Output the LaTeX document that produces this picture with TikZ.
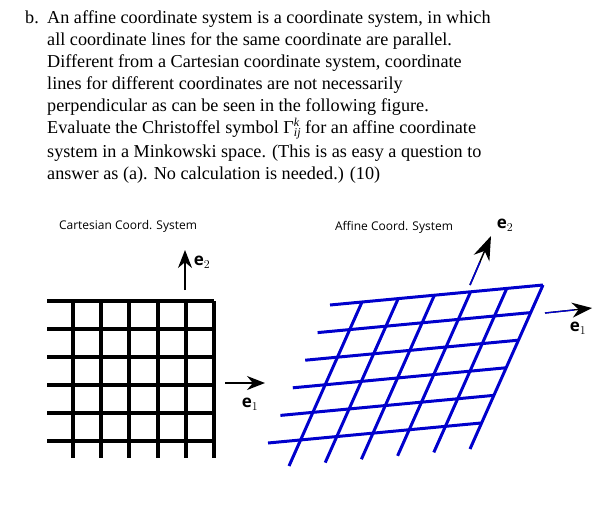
\documentclass[tikz,border=0pt]{standalone}
\usepackage{fontspec}
\setmainfont{Liberation Serif}
\newfontfamily\labelfont{Open Sans}
\usetikzlibrary{arrows.meta}
\tikzset{
  textline/.style={anchor=base west, inner sep=0pt, font=\fontsize{18.2}{20}\selectfont},
  gridline/.style={line width=4pt},
  affline/.style={line width=3pt, color=blue!80!black},
  basisvec/.style={-{Stealth[length=18pt,width=14pt]}, line width=1.3pt},
  veclabel/.style={font=\labelfont\bfseries\fontsize{17}{18}\selectfont, inner sep=0pt},
  title/.style={font=\labelfont\fontsize{12}{14}\selectfont, inner sep=0pt}
}
\begin{document}
\begin{tikzpicture}[x=1pt,y=-1pt]
    \useasboundingbox (0,0) rectangle (607,504);
    % question text
    \node[textline] (b) at (25,23) {b.};
    \node[textline] (l1) at (47,23) {An affine coordinate system is a coordinate system, in which};
    \node[textline] (l2) at (47,45) {all coordinate lines for the same coordinate are parallel.};
    \node[textline] (l3) at (47,67) {Different from a Cartesian coordinate system, coordinate};
    \node[textline] (l4) at (47,89) {lines for different coordinates are not necessarily};
    \node[textline] (l5) at (47,111) {perpendicular as can be seen in the following figure.};
    \node[textline] (l6) at (47,133) {Evaluate the Christoffel symbol Γ\rlap{\raisebox{7pt}{\fontsize{12}{12}\selectfont\itshape k}}\raisebox{-3pt}{\fontsize{12}{12}\selectfont\itshape ij} for an affine coordinate};
    \node[textline] (l7) at (47,157) {system in a Minkowski space. (This is as easy a question to};
    \node[textline] (l8) at (47,179) {answer as (a). No calculation is needed.) (10)};
    % titles
    \node[title] (cart) at (128,226) {Cartesian Coord. System};
    \node[title] (aff) at (394,227) {Affine Coord. System};
    % cartesian grid
    \foreach \i in {0,...,5} {
        \draw[gridline] (47,301+28*\i) -- (214,301+28*\i);
        \draw[gridline] (73+28.2*\i,301) -- (73+28.2*\i,458);
    }
    \coordinate (c2a) at (185,290);
    \coordinate (c2b) at (185,250);
    \draw[basisvec] (c2a) -- (c2b);
    \node[veclabel] (ce2) at (202,262) {e$_2$};
    \coordinate (c1a) at (225,383);
    \coordinate (c1b) at (265,383);
    \draw[basisvec] (c1a) -- (c1b);
    \node[veclabel] (ce1) at (250,404) {e$_1$};
    % affine grid
    \foreach \i in {0,...,5} {
        \draw[affline] (330-12.4*\i,305+27.6*\i) -- (543-12.4*\i,285+27.6*\i);
        \draw[affline] (362+36.2*\i,302-3.4*\i) -- (362+36.2*\i-73,302-3.4*\i+164);
    }
    \coordinate (a2a) at (470,285);
    \coordinate (a2b) at (491,236);
    \draw[-{Stealth[length=24pt,width=17pt]}, line width=1.5pt] (a2a) -- (a2b);
    \draw[blue!80!black, line width=1.5pt] (a2a) -- (480,262);
    \node[veclabel] (ae2) at (505,225) {e$_2$};
    \coordinate (a1a) at (545,313);
    \coordinate (a1b) at (592,308);
    \draw[-{Stealth[length=20pt,width=15pt]}, line width=1.3pt] (a1a) -- (a1b);
    \draw[blue!80!black, line width=1.3pt] (a1a) -- (574,310);
    \node[veclabel] (ae1) at (578,328) {e$_1$};
\end{tikzpicture}
\end{document}
